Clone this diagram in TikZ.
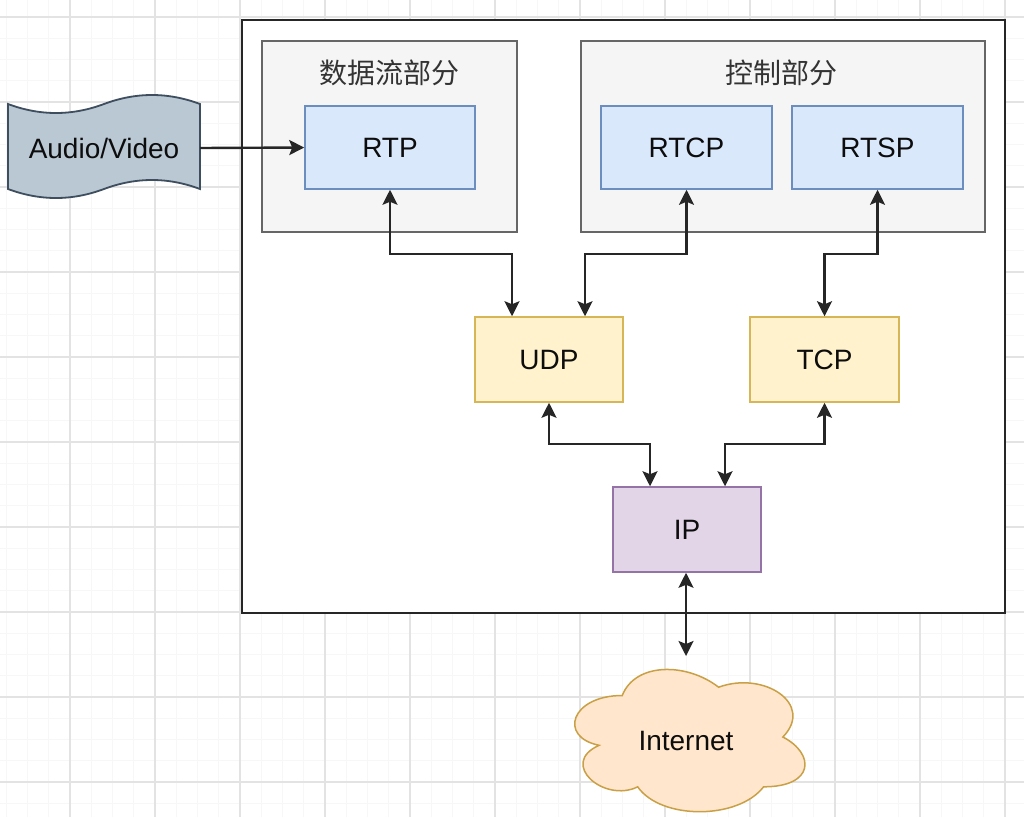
\documentclass[tikz,border=0pt]{standalone}
\usepackage{fontspec}
\setmainfont{Liberation Sans}
\newfontfamily\cjk{Noto Sans CJK SC}
\usetikzlibrary{arrows.meta,calc}
\definecolor{gridmaj}{HTML}{E3E3E3}
\definecolor{gridmin}{HTML}{F7F7F7}
\definecolor{grpfill}{HTML}{F5F5F5}
\definecolor{grpdraw}{HTML}{666666}
\definecolor{bluefill}{HTML}{DAE8FC}
\definecolor{bluedraw}{HTML}{6C8EBF}
\definecolor{yelfill}{HTML}{FFF2CC}
\definecolor{yeldraw}{HTML}{D6B656}
\definecolor{purfill}{HTML}{E1D5E7}
\definecolor{purdraw}{HTML}{9673A6}
\definecolor{tapefill}{HTML}{BAC8D3}
\definecolor{tapedraw}{HTML}{3E4E5E}
\definecolor{cloudfill}{HTML}{FFE6CC}
\definecolor{clouddraw}{HTML}{C9A046}
\definecolor{linecol}{HTML}{262626}
\begin{document}
\begin{tikzpicture}[x=1pt,y=-1pt,
  gridminor/.style={draw=gridmin, line width=0.8pt},
  gridmajor/.style={draw=gridmaj, line width=1.2pt},
  lbl/.style={font=\fontsize{28}{32}\selectfont, text=black!95},
  grp/.style={draw=grpdraw, fill=grpfill, line width=1.5pt, inner sep=0pt},
  grptitle/.style={font=\cjk\fontsize{28}{30}\selectfont, text=black!80},
  proto/.style={lbl, line width=1.5pt, inner sep=0pt},
  bluebox/.style={proto, draw=bluedraw, fill=bluefill, minimum width=170pt, minimum height=83pt},
  yelbox/.style={proto, draw=yeldraw, fill=yelfill, minimum width=148pt, minimum height=85pt},
  purbox/.style={proto, draw=purdraw, fill=purfill, minimum width=148pt, minimum height=85pt},
  conn/.style={draw=linecol, line width=2.4pt},
  biconn/.style={conn, {Stealth[length=15pt,width=15pt,inset=3pt]}-{Stealth[length=15pt,width=15pt,inset=3pt]}},
  oneconn/.style={conn, -{Stealth[length=15pt,width=15pt,inset=3pt]}}
]
\useasboundingbox (0,0) rectangle (1024,817);
\fill[white] (0,0) rectangle (1024,817);
% background grid
\foreach \i in {0,...,47} { \draw[gridminor] ({6.25+21.25*\i},0) -- ++(0,817); }
\foreach \i in {0,...,39} { \draw[gridminor] (0,{-4.25+21.25*\i}) -- ++(1024,0); }
\foreach \i in {0,...,11} { \draw[gridmajor] ({70+85*\i},0) -- ++(0,817); }
\foreach \i in {0,...,9} { \draw[gridmajor] (0,{17+85*\i}) -- ++(1024,0); }

% outer container
\node[draw=black!85, fill=white, line width=2.2pt, minimum width=763pt, minimum height=593pt, inner sep=0pt] (outer) at (623.5,316.5) {};

% groups
\node[grp, minimum width=255pt, minimum height=191pt] (gdata) at (389.5,136.5) {};
\node[grptitle] (tdata) at (389.5,73) {数据流部分};
\node[grp, minimum width=404pt, minimum height=191pt] (gctrl) at (783,136.5) {};
\node[grptitle] (tctrl) at (781,73) {控制部分};

% protocol boxes
\node[bluebox] (rtp) at (390,147.5) {RTP};
\node[bluebox, minimum width=171pt] (rtcp) at (686.5,147.5) {RTCP};
\node[bluebox, minimum width=171pt] (rtsp) at (877.5,147.5) {RTSP};
\node[yelbox] (udp) at (549,359.5) {UDP};
\node[yelbox, minimum width=149pt] (tcp) at (824.5,359.5) {TCP};
\node[purbox] (ip) at (687,529.5) {IP};

% Audio/Video tape shape
\path[fill=tapefill, draw=tapedraw, line width=1.8pt]
  (8,104) .. controls (40,116) and (72,116) .. (104,104)
  .. controls (136,92) and (168,92) .. (200,104)
  -- (200,189)
  .. controls (168,177) and (136,177) .. (104,189)
  .. controls (72,201) and (40,201) .. (8,189) -- cycle;
\node[lbl, minimum width=192pt, minimum height=85pt, inner sep=0pt] (av) at (104,148) {Audio/Video};

% Internet cloud
\begin{scope}[shift={(558,654)}, x=257pt, y=-166pt]
\path[fill=cloudfill, draw=clouddraw, line width=1.5pt]
  (0.25,0.25) .. controls (0.05,0.25) and (0,0.5) .. (0.16,0.55)
  .. controls (0,0.66) and (0.18,0.9) .. (0.31,0.8)
  .. controls (0.4,1) and (0.7,1) .. (0.8,0.8)
  .. controls (1,0.8) and (1,0.6) .. (0.875,0.5)
  .. controls (1,0.3) and (0.8,0.1) .. (0.625,0.2)
  .. controls (0.5,0.05) and (0.3,0.05) .. (0.25,0.25) -- cycle;
\end{scope}
\node[lbl] (inet) at (686,741) {Internet};
\coordinate (inettop) at (686,656);

% connectors
\draw[oneconn] (av.east) -- (rtp.west);
\draw[biconn] (rtp.south) -- ++(0,64) -| ([xshift=-37pt]udp.north);
\draw[biconn] (rtcp.south) -- ++(0,64) -| ([xshift=36pt]udp.north);
\draw[biconn] (rtsp.south) -- ++(0,64) -| (tcp.north);
\draw[biconn] (udp.south) -- ++(0,41) -| ([xshift=-37pt]ip.north);
\draw[biconn] (tcp.south) -- ++(0,41) -| ([xshift=38pt]ip.north);
\draw[biconn] ([xshift=-1pt]ip.south) -- (inettop);
\end{tikzpicture}
\end{document}
